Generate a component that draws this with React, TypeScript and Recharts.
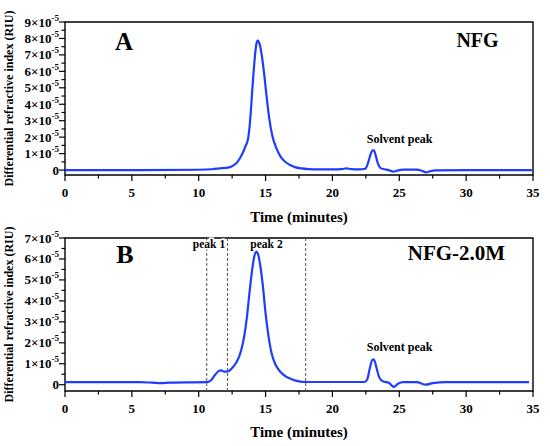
import { LineChart, Line, XAxis, YAxis, ReferenceArea, ReferenceLine, ReferenceDot } from "recharts";

const FONT = "'Liberation Serif', 'Times New Roman', serif";
const BLUE = "#1f3cff";

// detector signal, in units of 1e-5 RIU
const timeA = [
  0, 5, 10, 11, 11.6, 12.2, 12.6, 12.9, 13.1, 13.3, 13.5, 13.7, 13.8, 13.9, 14.0, 14.1, 14.2, 14.3, 14.41,
  14.55, 14.7, 14.9, 15.1, 15.3, 15.5, 15.8, 16.1, 16.4, 16.8, 17.2, 17.7, 18.2, 19, 20, 20.7, 21.05, 21.4,
  22, 22.45, 22.65, 22.85, 23.0, 23.1, 23.25, 23.4, 23.6, 23.9, 24.2, 24.55, 24.9, 25.3, 26.3, 26.7, 27.0,
  27.3, 27.7, 30, 35,
];
const signalA = [
  0, 0, 0.02, 0.05, 0.1, 0.15, 0.28, 0.5, 0.75, 1.05, 1.45, 1.95, 2.6, 3.6, 4.8, 5.9, 6.9, 7.6, 7.87,
  7.67, 7.06, 5.8, 4.3, 3.0, 2.1, 1.35, 0.85, 0.55, 0.32, 0.18, 0.1, 0.06, 0.04, 0.04, 0.06, 0.1, 0.06,
  0.04, 0.08, 0.4, 0.95, 1.2, 1.2, 0.85, 0.4, 0.12, 0.05, 0.0, -0.1, -0.02, 0.03, 0.03, -0.05, -0.14,
  -0.07, -0.02, 0, 0,
];

const timeB = [
  0, 5.5, 6.5, 7.2, 7.8, 10.6, 10.9, 11.2, 11.5, 11.7, 11.9, 12.15, 12.5, 12.8, 13.0, 13.2, 13.4, 13.6,
  13.8, 14.0, 14.15, 14.3, 14.45, 14.6, 14.8, 15.0, 15.2, 15.45, 15.75, 16.1, 16.5, 17.0, 17.5, 18, 22.4,
  22.6, 22.8, 23.0, 23.1, 23.3, 23.5, 23.8, 24.2, 24.6, 24.9, 25.3, 26.3, 27.0, 27.5, 28.5, 34.7,
];
const signalB = [
  0.12, 0.12, 0.1, 0.08, 0.1, 0.12, 0.2, 0.45, 0.65, 0.68, 0.62, 0.63, 0.8, 1.05, 1.3, 1.7, 2.3, 3.2,
  4.4, 5.5, 6.1, 6.35, 6.2, 5.7, 4.7, 3.4, 2.4, 1.5, 0.95, 0.62, 0.4, 0.25, 0.16, 0.13, 0.13,
  0.25, 0.8, 1.2, 1.2, 0.8, 0.35, 0.15, 0.1, -0.1, 0.05, 0.12, 0.12, 0.0, 0.08, 0.12, 0.12,
];

const xTicks = [0, 2.5, 5, 7.5, 10, 12.5, 15, 17.5, 20, 22.5, 25, 27.5, 30, 32.5, 35];
const yTicksA = [0, 0.5, 1, 1.5, 2, 2.5, 3, 3.5, 4, 4.5, 5, 5.5, 6, 6.5, 7, 7.5, 8, 8.5, 9];
const yTicksB = [0, 0.5, 1, 1.5, 2, 2.5, 3, 3.5, 4, 4.5, 5, 5.5, 6, 6.5, 7];
const peakCuts = [10.6, 12.15, 18];

const dataA = timeA.map((t, i) => ({ t, v: signalA[i] }));
const dataB = timeB.map((t, i) => ({ t, v: signalB[i] }));

const XTick = ({ x, y, payload }: any) => {
  const major = payload.value % 5 === 0;
  return (
    <g>
      <line x1={x} x2={x} y1={y} y2={y + (major ? 6 : 3.5)} stroke="#000" strokeWidth={1.2} />
      {major && (
        <text x={x} y={y + 22} textAnchor="middle" fontSize={13} fontWeight="bold" fontFamily={FONT} fill="#000">
          {payload.value}
        </text>
      )}
    </g>
  );
};

const YTick = ({ x, y, payload }: any) => {
  const v = payload.value;
  const major = Number.isInteger(v);
  return (
    <g>
      <line x1={x - (major ? 6 : 3.5)} x2={x} y1={y} y2={y} stroke="#000" strokeWidth={1.2} />
      {major && (
        <text x={x - 6} y={y + 4.5} textAnchor="end" fontSize={13} fontWeight="bold" fontFamily={FONT} fill="#000">
          {v === 0 ? (
            "0"
          ) : (
            <>
              {v}×10
              <tspan fontSize={9} dy={-6}>-5</tspan>
            </>
          )}
        </text>
      )}
    </g>
  );
};

const annotation = (text: string, size: number, halo = false) => (props: any) => {
  const vb = props.viewBox || {};
  const cx = (vb.x ?? 0) + (vb.width ?? 0) / 2;
  const cy = (vb.y ?? 0) + (vb.height ?? 0) / 2;
  return (
    <text
      x={cx}
      y={cy}
      textAnchor="middle"
      fontSize={size}
      fontWeight="bold"
      fontFamily={FONT}
      fill="#000"
      stroke={halo ? "#fff" : "none"}
      strokeWidth={halo ? 3 : 0}
      paintOrder="stroke"
    >
      {text}
    </text>
  );
};

const xTitle = (dy: number) => (props: any) => {
  const vb = props.viewBox || {};
  return (
    <text x={vb.x + vb.width / 2} y={vb.y + dy} textAnchor="middle" fontSize={15} fontWeight="bold" fontFamily={FONT} fill="#000">
      Time (minutes)
    </text>
  );
};

const yTitle = (props: any) => {
  const vb = props.viewBox || {};
  const cx = vb.x + 8;
  const cy = vb.y + vb.height / 2;
  return (
    <text
      x={cx}
      y={cy}
      transform={`rotate(-90 ${cx} ${cy})`}
      textAnchor="middle"
      fontSize={12}
      fontWeight="bold"
      fontFamily={FONT}
      fill="#000"
    >
      Differential refractive index (RIU)
    </text>
  );
};

const dot = { r: 1, fill: "none", stroke: "none", ifOverflow: "visible" as const };

export default function App() {
  return (
    <div style={{ position: "relative", width: 550, height: 446, background: "#fff" }}>
      <style>{"body{margin:0}"}</style>
      <div style={{ position: "absolute", left: 0, top: 0 }}>
        <LineChart width={550} height={230} data={dataA} margin={{ top: 22, right: 17, bottom: 0, left: 5 }}>
          <XAxis
            dataKey="t"
            type="number"
            domain={[0, 35]}
            ticks={xTicks}
            interval={0}
            tickSize={0}
            tickMargin={0}
            tickLine={false}
            axisLine={false}
            height={55}
            tick={<XTick />}
            label={xTitle(47)}
          />
          <YAxis
            type="number"
            domain={[-0.3, 9]}
            ticks={yTicksA}
            interval={0}
            tickSize={0}
            tickMargin={0}
            tickLine={false}
            axisLine={false}
            width={60}
            tick={<YTick />}
            label={yTitle}
          />
          <ReferenceArea x1={0} x2={35} y1={-0.3} y2={9} fill="none" stroke="#000" strokeWidth={1.4} />
          <Line type="monotone" dataKey="v" stroke={BLUE} strokeWidth={2.2} dot={false} isAnimationActive={false} />
          <ReferenceDot x={4.41} y={7.3} {...dot} label={annotation("A", 25)} />
          <ReferenceDot x={30.85} y={7.48} {...dot} label={annotation("NFG", 20)} />
          <ReferenceDot x={25.02} y={1.66} {...dot} label={annotation("Solvent peak", 12)} />
        </LineChart>
      </div>
      <div style={{ position: "absolute", left: 0, top: 222 }}>
        <LineChart width={550} height={224} data={dataB} margin={{ top: 16, right: 17, bottom: 0, left: 5 }}>
          <XAxis
            dataKey="t"
            type="number"
            domain={[0, 35]}
            ticks={xTicks}
            interval={0}
            tickSize={0}
            tickMargin={0}
            tickLine={false}
            axisLine={false}
            height={55}
            tick={<XTick />}
            label={xTitle(46)}
          />
          <YAxis
            type="number"
            domain={[-0.3, 7]}
            ticks={yTicksB}
            interval={0}
            tickSize={0}
            tickMargin={0}
            tickLine={false}
            axisLine={false}
            width={60}
            tick={<YTick />}
            label={yTitle}
          />
          <ReferenceArea x1={0} x2={35} y1={-0.3} y2={7} fill="none" stroke="#000" strokeWidth={1.4} />
          {peakCuts.map((c) => (
            <ReferenceLine key={c} x={c} stroke="#555" strokeWidth={1} strokeDasharray="3 2" />
          ))}
          <Line type="monotone" dataKey="v" stroke={BLUE} strokeWidth={2.2} dot={false} isAnimationActive={false} />
          <ReferenceDot x={4.49} y={5.81} {...dot} label={annotation("B", 26)} />
          <ReferenceDot x={29.28} y={5.95} {...dot} label={annotation("NFG-2.0M", 21)} />
          <ReferenceDot x={10.77} y={6.52} {...dot} label={annotation("peak 1", 11.5, true)} />
          <ReferenceDot x={15.07} y={6.52} {...dot} label={annotation("peak 2", 11.5)} />
          <ReferenceDot x={25.02} y={1.61} {...dot} label={annotation("Solvent peak", 12)} />
        </LineChart>
      </div>
    </div>
  );
}
